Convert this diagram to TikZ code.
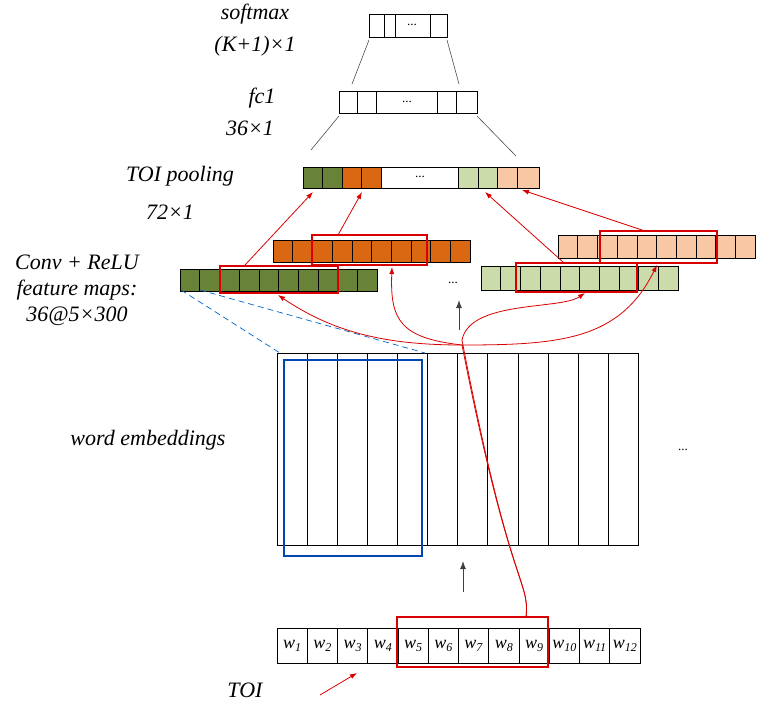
\documentclass[tikz,border=0pt]{standalone}
\usepackage{fontspec}
\setmainfont{Liberation Serif}
\begin{document}
\begin{tikzpicture}[x=1pt,y=-1pt,
  lab/.style={font=\fontsize{22}{26}\selectfont\itshape},
  cell/.style={draw=black,line width=0.6pt},
  redbox/.style={draw=red!85!black,line width=1.2pt},
  rarr/.style={draw=red!85!black,line width=0.8pt,-{Latex[length=7pt,width=5pt]}},
  garr/.style={draw=black!75,line width=1pt,-{Latex[length=8pt,width=6pt]}},
  gl/.style={draw=black!70,line width=0.6pt},
  dts/.style={font=\fontsize{13}{14}\selectfont},
  dsh/.style={draw=blue!50!cyan!80!black,dash pattern=on 6pt off 4pt,line width=0.7pt}]
\usetikzlibrary{arrows.meta}
\definecolor{dg}{RGB}{104,130,56}
\definecolor{og}{RGB}{218,104,18}
\definecolor{lg}{RGB}{203,219,170}
\definecolor{pc}{RGB}{248,200,165}
\useasboundingbox (0,0) rectangle (758,707);
% labels
\node[lab] (lsm) at (255,14) {softmax};
\node[lab] (lk) at (255,46) {(K+1)×1};
\node[lab] (lfc) at (262,98) {fc1};
\node[lab] (l36) at (250,128) {36×1};
\node[lab] (ltoi) at (180,176) {TOI pooling};
\node[lab] (l72) at (170,212) {72×1};
\node[lab,align=center] (lconv) at (77,290) {Conv + ReLU\\feature maps:\\36@5×300};
\node[lab] (lwe) at (148,440) {word embeddings};
\node[lab] (ltoi2) at (245,690) {TOI};
% softmax
\draw[cell] (369,14) rectangle (447,37);
\foreach \x in {384,395,430} \draw[cell] (\x,14) -- (\x,37);
\node[dts] (sm) at (412,25) {...};
% fc1
\draw[cell] (339,91) rectangle (477,113);
\foreach \x in {357,376,437,456} \draw[cell] (\x,91) -- (\x,113);
\node[dts] (fc) at (407,102) {...};
\coordinate (a1) at (369,40); \coordinate (a2) at (352,84);
\coordinate (a3) at (447,40); \coordinate (a4) at (459,84);
\coordinate (b1) at (339,116); \coordinate (b2) at (311,150);
\coordinate (b3) at (477,116); \coordinate (b4) at (516,156);
\draw[gl] (a1) -- (a2); \draw[gl] (a3) -- (a4);
\draw[gl] (b1) -- (b2); \draw[gl] (b3) -- (b4);
% pooling
\fill[dg] (303,167) rectangle (342,188);
\fill[og] (342,167) rectangle (381,188);
\fill[lg] (458,167) rectangle (497,188);
\fill[pc] (497,167) rectangle (539,188);
\draw[cell] (303,167) rectangle (539,188);
\foreach \x in {322,342,361,381,458,478,497,517} \draw[cell] (\x,167) -- (\x,188);
\node[dts] (pl) at (420,177) {...};
% feature maps
\newcommand{\fmap}[4]{%
  \fill[#4] (#1,#2) rectangle ++(197,#3);
  \foreach \i in {0,...,9} \draw[cell] ({#1+\i*19.7},#2) rectangle ++(19.7,#3);}
\fmap{180}{269}{22}{dg}
\fmap{273}{240}{22}{og}
\fmap{481}{266}{24}{lg}
\fmap{558}{235}{23}{pc}
\node[dts] (fd) at (453,283) {...};
\draw[redbox] (220,266) rectangle (338,293);
\draw[redbox] (312,235) rectangle (427,265);
\draw[redbox] (516,263) rectangle (637,292);
\draw[redbox] (600,231) rectangle (717,263);
% arrows to pooling
\coordinate (r1) at (245,265); \coordinate (p1) at (313,192);
\coordinate (r2) at (338,235); \coordinate (p2) at (362,192);
\coordinate (r3) at (563,262); \coordinate (p3) at (485,192);
\coordinate (r4) at (645,231); \coordinate (p4) at (522,190);
\draw[rarr] (r1) -- (p1); \draw[rarr] (r2) -- (p2);
\draw[rarr] (r3) -- (p3); \draw[rarr] (r4) -- (p4);
% embeddings
\foreach \i in {0,...,11} \draw[cell] ({277+\i*30.1},353) rectangle ++(30.1,192);
\draw[draw=blue!60!cyan!70!black,line width=1.2pt] (284,360) rectangle (422,556);
\node[dts] (ed) at (683,450) {...};
\coordinate (d1) at (181,290); \coordinate (d2) at (280,353);
\coordinate (d3) at (200,290); \coordinate (d4) at (425,353);
\draw[dsh] (d1) -- (d2); \draw[dsh] (d3) -- (d4);
\coordinate (g1) at (459,330); \coordinate (g2) at (459,300);
\coordinate (g3) at (463,592); \coordinate (g4) at (463,561);
\draw[garr] (g1) -- (g2); \draw[garr] (g3) -- (g4);
% word row
\foreach \i in {1,...,12} {
  \draw[cell] ({277+(\i-1)*30.25},628) rectangle ++(30.25,35);
  \node[font=\fontsize{18}{18}\selectfont,inner sep=0pt] (w\i) at ({277+(\i-0.5)*30.25},646) {\textit{w}\raisebox{-3pt}{\fontsize{12}{12}\selectfont\textit{\i}}};}
\draw[redbox] (397,617) rectangle (548,667);
\coordinate (t1) at (320,695); \coordinate (t2) at (357,673);
\draw[rarr] (t1) -- (t2);
% curves
\coordinate (W) at (526,617);
\coordinate (e1) at (278,295);
\coordinate (e2) at (392,267);
\coordinate (e3) at (585,293);
\coordinate (e4) at (657,265);
\coordinate (H) at (462,345);
\draw[rarr] (W) .. controls (530,580) and (510,590) .. (462,340) .. controls (470,300) and (560,310) .. (e3);
\draw[rarr] (W) .. controls (530,580) and (510,590) .. (H) .. controls (400,338) and (390,320) .. (e2);
\draw[rarr] (H) .. controls (380,345) and (330,330) .. (e1);
\draw[rarr] (H) .. controls (560,345) and (620,340) .. (e4);
\end{tikzpicture}
\end{document}
